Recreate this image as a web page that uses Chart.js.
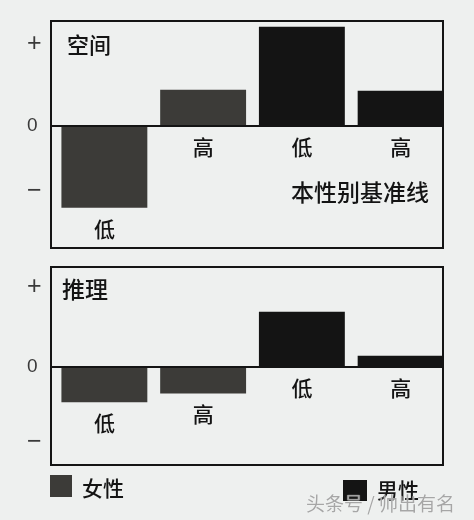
<!DOCTYPE html>
<html>
<head>
<meta charset="utf-8">
<script src="https://cdn.jsdelivr.net/npm/chart.js@4"></script>
<style>
  html, body { margin: 0; padding: 0; background: #eef0ef; }
  #page { position: relative; width: 474px; height: 520px; overflow: hidden; background: #eef0ef;
          font-family: "Noto Sans CJK SC", sans-serif; color: #141414; }
  .panel { position: absolute; left: 0; width: 474px; }
  .txt { position: absolute; white-space: nowrap; line-height: 1; }
  .sw { position: absolute; }
</style>
</head>
<body>
<div id="page">
  <div class="panel" style="top:0;height:263px"><canvas id="spatialChart"></canvas></div>
  <div class="panel" style="top:250px;height:230px"><canvas id="reasonChart"></canvas></div>

  <div class="txt" style="left:67px;top:32px;font-size:22px;font-weight:500">空间</div>
  <div class="txt" style="left:291px;top:180px;font-size:23px;font-weight:500">本性别基准线</div>
  <div class="txt" style="left:62px;top:277px;font-size:23px;font-weight:500">推理</div>

  <div class="sw" style="left:50px;top:475px;width:22px;height:22px;background:#3c3b38"></div>
  <div class="txt" style="left:82px;top:477px;font-size:21px;font-weight:500">女性</div>
  <div class="sw" style="left:343px;top:480px;width:24px;height:21px;background:#141414"></div>
  <div class="txt" style="left:377px;top:479px;font-size:21px;font-weight:500">男性</div>
  <div class="txt" style="left:306px;top:493px;font-size:19px;color:rgba(150,150,150,0.85);text-shadow:0 0 1px #fff">头条号 / 帅出有名</div>
</div>

<script>
// bar labels and groups (female low/high, male low/high)
const categories = ['低', '高', '低', '高'];
const groups = ['女性', '女性', '男性', '男性'];
const groupColors = { '女性': '#3c3b38', '男性': '#141414' };

// values relative to the sex baseline, in units of the "+" tick
const spatialValues = [-1.0, 0.44, 1.21, 0.43];
const reasonValues = [-0.44, -0.33, 0.69, 0.14];

// y tick labels (ascending) and where they sit on each panel's scale
const tickLabels = ['−', '0', '+'];
const spatialTicks = [-0.8, 0, 1];
const reasonTicks = [-0.94, 0, 1];

const boxPlugin = {
  id: 'box',
  afterDatasetsDraw(chart) {
    const a = chart.chartArea;
    const ctx = chart.ctx;
    const left = a.left - 4, right = a.right - 7;
    const zero = chart.scales.y.getPixelForValue(0);
    ctx.save();
    ctx.strokeStyle = '#141414';
    ctx.lineWidth = 2;
    ctx.strokeRect(left, a.top, right - left, a.bottom - a.top);
    ctx.beginPath();
    ctx.moveTo(left, zero);
    ctx.lineTo(right, zero);
    ctx.stroke();

    // 低 / 高 under each bar (or under the baseline)
    ctx.fillStyle = '#141414';
    ctx.font = '500 21px "Noto Sans CJK SC"';
    ctx.textAlign = 'center';
    ctx.textBaseline = 'middle';
    chart.getDatasetMeta(0).data.forEach(function(bar, i) {
      ctx.fillText(categories[i], bar.x, Math.max(bar.y, bar.base) + 21);
    });
    ctx.restore();
  }
};

function makePanel(id, values, ticks, min, max, pad) {
  new Chart(document.getElementById(id), {
    type: 'bar',
    data: {
      labels: categories,
      datasets: [{
        data: values,
        backgroundColor: groups.map(function(g) { return groupColors[g]; }),
        borderWidth: 0,
        categoryPercentage: 1,
        barPercentage: 0.87
      }]
    },
    options: {
      responsive: true,
      maintainAspectRatio: false,
      animation: false,
      layout: { padding: pad },
      plugins: { legend: { display: false }, tooltip: { enabled: false } },
      scales: {
        x: { display: false },
        y: {
          min: min,
          max: max,
          afterFit: function(s) { s.width = 28; },
          afterBuildTicks: function(s) { s.ticks = ticks.map(function(v) { return { value: v }; }); },
          grid: { display: false, drawTicks: false },
          border: { display: false },
          ticks: {
            padding: 0,
            crossAlign: 'far',
            color: '#3a3a3a',
            font: function(c) {
              // the sign glyphs are drawn bigger than the zero
              return { family: 'Liberation Sans', size: c.tick && c.tick.value === 0 ? 19 : 25 };
            },
            callback: function(v, i) { return tickLabels[i]; }
          }
        }
      }
    },
    plugins: [boxPlugin]
  });
}

makePanel('spatialChart', spatialValues, spatialTicks, -1.49, 1.28, { top: 21, bottom: 15, left: 27, right: 24 });
makePanel('reasonChart', reasonValues, reasonTicks, -1.225, 1.25, { top: 17, bottom: 15, left: 27, right: 24 });
</script>
</body>
</html>
